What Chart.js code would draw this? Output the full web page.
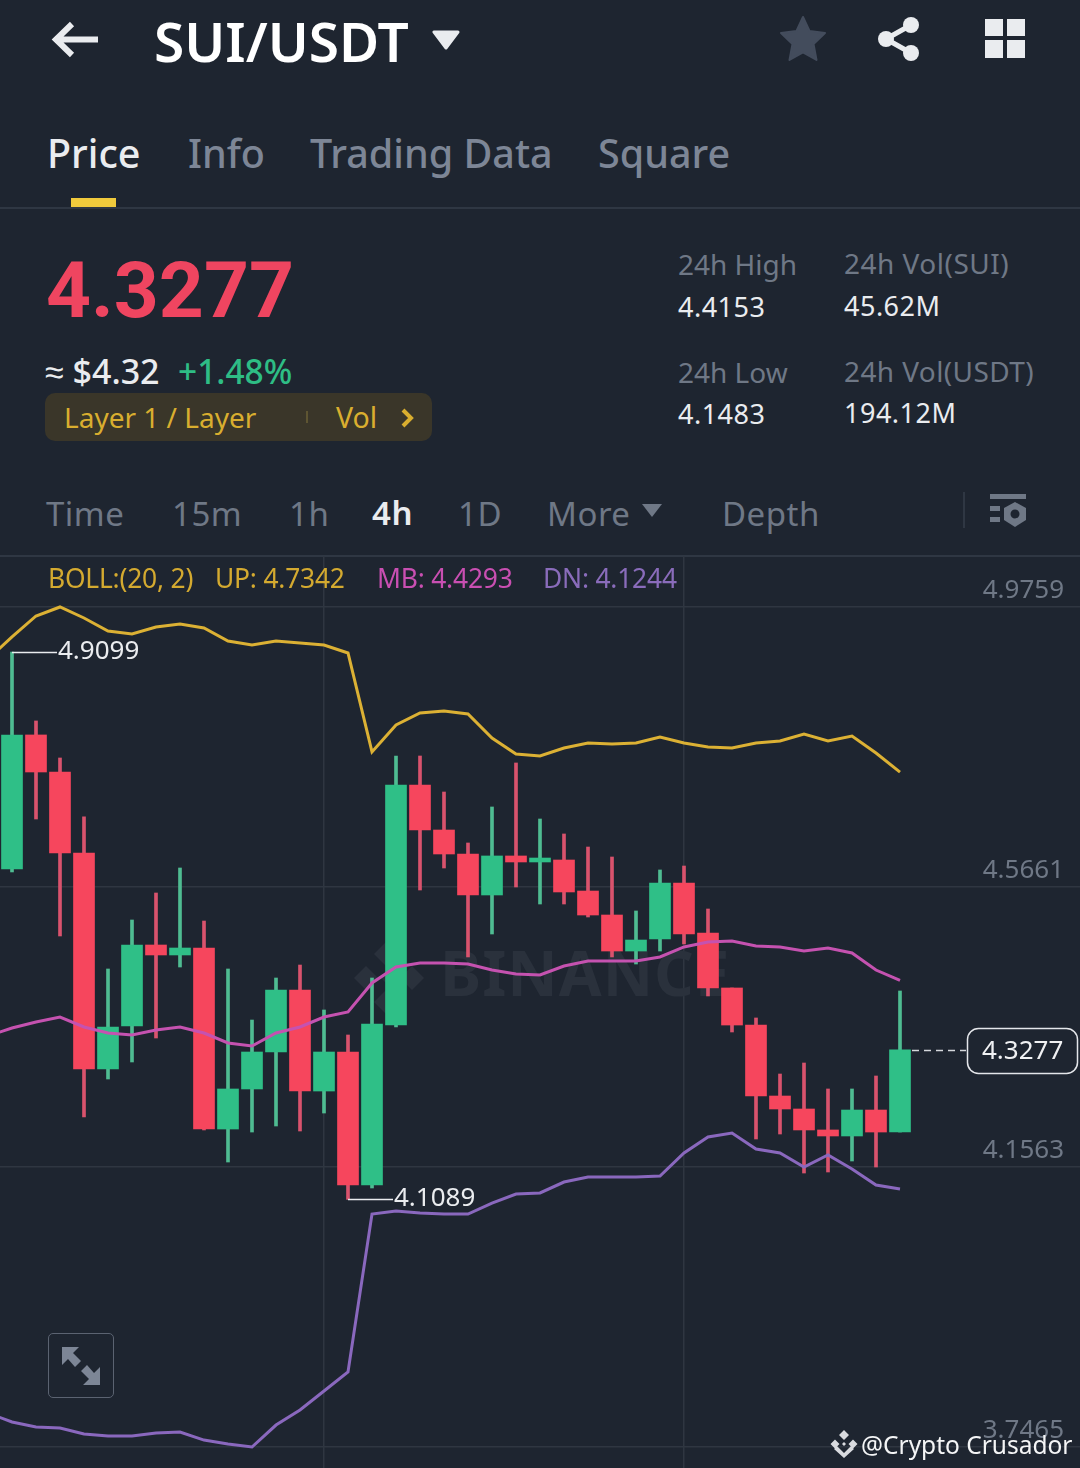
<!DOCTYPE html>
<html>
<head>
<meta charset="utf-8">
<title>SUI/USDT</title>
<script src="https://cdn.jsdelivr.net/npm/chart.js@4/dist/chart.umd.min.js"></script>
<style>
html, body { margin: 0; padding: 0; background: #1e2530; }
body { position: relative; width: 1080px; height: 1468px; overflow: hidden; font-family: "Noto Sans", sans-serif; }
.t { position: absolute; white-space: nowrap; line-height: 50px; height: 50px; }
.line { position: absolute; background: #2f3743; }
.tab { font-size: 39.500px; font-weight: 500; color: #7d8696; }
.stat { font-size: 28px; color: #6f7886; }
.val { font-size: 27px; color: #eaecef; letter-spacing: 0.5px; }
.time { font-size: 33px; color: #6f7886; letter-spacing: 0.5px; }
.leg { font-size: 26.400px; letter-spacing: -0.2px; }
svg { position: absolute; }
canvas { position: absolute; left: 0; top: 556px; }
</style>
</head>
<body>

<svg style="left:50px;top:20px" width="50" height="40" viewBox="0 0 50 40"><path d="M22 4 L6 19.500 L22 35 M7 19.500 H48" fill="none" stroke="#eaecef" stroke-width="6"/></svg>
<div class="t" style="left:154px;top:16px;font-size:55px;font-weight:600;color:#fff;line-height:50px">SUI/USDT</div>
<svg style="left:432px;top:30px" width="28" height="20"><path d="M2 2 H26 L14 18 Z" fill="#eaecef" stroke="#eaecef" stroke-width="3" stroke-linejoin="round"/></svg>

<svg style="left:778px;top:14px" width="50" height="50" viewBox="0 0 50 50"><path d="M25 3 L31.500 17 L47 19 L35.500 30 L38.500 46 L25 38.500 L11.500 46 L14.500 30 L3 19 L18.500 17 Z" fill="#434c5c" stroke="#434c5c" stroke-width="2" stroke-linejoin="round"/></svg>
<svg style="left:875px;top:14px" width="50" height="50" viewBox="0 0 50 50"><circle cx="11" cy="25" r="8" fill="#eaecef"/><circle cx="36" cy="11" r="8" fill="#eaecef"/><circle cx="36" cy="39" r="8" fill="#eaecef"/><path d="M11 25 L36 11 M11 25 L36 39" stroke="#eaecef" stroke-width="5"/></svg>
<svg style="left:985px;top:19px" width="40" height="40"><rect x="0" y="0" width="18" height="17" fill="#eaecef"/><rect x="22" y="0" width="18" height="17" fill="#eaecef"/><rect x="0" y="21" width="18" height="18" fill="#eaecef"/><rect x="22" y="21" width="18" height="18" fill="#eaecef"/></svg>

<div class="t tab" style="left:47px;top:128px;color:#eaecef">Price</div>
<div class="t tab" style="left:188px;top:128px">Info</div>
<div class="t tab" style="left:310px;top:128px">Trading Data</div>
<div class="t tab" style="left:598px;top:128px">Square</div>
<div class="line" style="left:71px;top:198px;width:45px;height:9px;background:#f0ca3c"></div>
<div class="line" style="left:0;top:207px;width:1080px;height:2px"></div>

<div class="t" style="left:46px;top:265px;font-family:Roboto;font-size:78.500px;font-weight:700;color:#ef4560">4.3277</div>
<div class="t" style="left:45px;top:346px;font-size:34px;font-weight:500;color:#eaecef">≈ $4.32</div>
<div class="t" style="left:178px;top:346px;font-size:33.500px;font-weight:500;color:#2ebd85">+1.48%</div>

<div style="position:absolute;left:45px;top:393px;width:387px;height:48px;border-radius:10px;background:#3a3629"></div>
<div class="t" style="left:64px;top:392px;font-size:28px;color:#d9ae2f">Layer 1 / Layer</div>
<div class="line" style="left:306px;top:411px;width:2px;height:12px;background:#5e5532"></div>
<div class="t" style="left:336px;top:392px;font-size:28.500px;color:#d9ae2f">Vol</div>
<svg style="left:400px;top:408px" width="16" height="20"><path d="M3 2 L11 10 L3 18" fill="none" stroke="#d9ae2f" stroke-width="4"/></svg>

<div class="t stat" style="left:678px;top:239px">24h High</div>
<div class="t val" style="left:678px;top:282px">4.4153</div>
<div class="t stat" style="left:844px;top:238px;letter-spacing:0.5px">24h Vol(SUI)</div>
<div class="t val" style="left:844px;top:281px">45.62M</div>
<div class="t stat" style="left:678px;top:347px">24h Low</div>
<div class="t val" style="left:678px;top:389px">4.1483</div>
<div class="t stat" style="left:844px;top:346px;letter-spacing:0.4px">24h Vol(USDT)</div>
<div class="t val" style="left:844px;top:388px">194.12M</div>

<div class="t time" style="left:46px;top:489px">Time</div>
<div class="t time" style="left:172px;top:489px">15m</div>
<div class="t time" style="left:289px;top:489px">1h</div>
<div class="t time" style="left:372px;top:488px;color:#eaecef;font-weight:600">4h</div>
<div class="t time" style="left:458px;top:489px">1D</div>
<div class="t time" style="left:547px;top:489px">More</div>
<svg style="left:642px;top:504px" width="20" height="13"><path d="M0 0 H20 L10 13 Z" fill="#6f7886"/></svg>
<div class="t time" style="left:722px;top:489px">Depth</div>
<div class="line" style="left:963px;top:492px;width:2px;height:36px"></div>
<svg style="left:988px;top:492px" width="40" height="38"><rect x="2" y="2" width="36" height="5" fill="#6f7886"/><rect x="2" y="14" width="10" height="5" fill="#6f7886"/><rect x="2" y="25" width="10" height="5" fill="#6f7886"/><path d="M27 10 L38 16 V28 L27 35 L16 28 V16 Z" fill="#6f7886"/><circle cx="27" cy="22" r="4.500" fill="#1e2530"/></svg>
<div class="line" style="left:0;top:555px;width:1080px;height:2px"></div>

<canvas id="chart" width="1080" height="912"></canvas>

<div class="t leg" style="left:48px;top:553px;color:#d4aa30">BOLL:(20, 2)</div>
<div class="t leg" style="left:215px;top:553px;color:#d4aa30">UP: 4.7342</div>
<div class="t leg" style="left:377px;top:553px;color:#c94fb2">MB: 4.4293</div>
<div class="t leg" style="left:543px;top:553px;color:#8a6cbb">DN: 4.1244</div>

<div style="position:absolute;left:48px;top:1333px;width:64px;height:63px;border:1.500px solid #5b6371;border-radius:5px"></div>
<svg style="left:60px;top:1345px" width="42" height="42"><path d="M2 2 H19 L13 8 L21 16 L15 22 L8 14 L2 20 Z M40 40 H23 L29 34 L21 26 L27 20 L34 28 L40 22 Z" fill="#7d8696"/></svg>

<svg style="left:829px;top:1429px" width="30" height="30" viewBox="0 0 30 30"><path d="M15 1 L20 6 L15 11 L10 6 Z M6 10.500 L10.500 15 L6 19.500 L1.500 15 Z M24 10.500 L28.500 15 L24 19.500 L19.500 15 Z M15 13 L17 15 L15 17 L13 15 Z M8 17 L15 24 L22 17 L25 20 L15 29 L5 20 Z" fill="#d9dbdf"/></svg>
<div class="t" style="left:861px;top:1420px;font-size:24.500px;color:#f4f5f6">@Crypto Crusador</div>

<script>
// price levels printed on the right axis
const priceTicks = [4.9759, 4.5661, 4.1563, 3.7465];
// the two vertical time lines sit on these candles
const timeTicks = [13, 28];

// 4h candles
const opens = [4.5924, 4.7886, 4.7344, 4.6159, 4.2997, 4.3627, 4.4812, 4.4666, 4.4768, 4.2119, 4.2705, 4.3246, 4.4154, 4.2675, 4.3246, 4.1300, 4.3641, 4.7154, 4.6495, 4.6144, 4.5544, 4.6115, 4.6027, 4.6056, 4.5602, 4.5251, 4.4724, 4.4900, 4.5720, 4.4988, 4.4183, 4.3641, 4.2602, 4.2412, 4.2105, 4.2017, 4.2397, 4.2075];
const highs = [4.9099, 4.8091, 4.7549, 4.6686, 4.4461, 4.5178, 4.5573, 4.5939, 4.5163, 4.4461, 4.3714, 4.4329, 4.4519, 4.3861, 4.3495, 4.4329, 4.7578, 4.7578, 4.7051, 4.6305, 4.6832, 4.7476, 4.6656, 4.6437, 4.6246, 4.6100, 4.5310, 4.5910, 4.5968, 4.5339, 4.4183, 4.3744, 4.2924, 4.3085, 4.2705, 4.2705, 4.2895, 4.4139];
const lows = [4.5881, 4.6656, 4.4944, 4.2295, 4.2851, 4.3100, 4.3451, 4.4490, 4.2105, 4.1636, 4.2075, 4.2163, 4.2090, 4.2353, 4.1089, 4.1256, 4.3612, 4.5617, 4.5939, 4.4637, 4.4973, 4.5661, 4.5412, 4.5412, 4.5222, 4.4637, 4.4534, 4.4724, 4.4827, 4.4066, 4.3539, 4.1973, 4.2046, 4.1475, 4.1490, 4.1651, 4.1563, 4.2075];
const closes = [4.7886, 4.7344, 4.6159, 4.2997, 4.3612, 4.4812, 4.4666, 4.4768, 4.2119, 4.2705, 4.3246, 4.4154, 4.2675, 4.3246, 4.1300, 4.3656, 4.7154, 4.6495, 4.6144, 4.5544, 4.6115, 4.6027, 4.6085, 4.5588, 4.5251, 4.4724, 4.4885, 4.5720, 4.4973, 4.4183, 4.3641, 4.2602, 4.2412, 4.2105, 4.2017, 4.2397, 4.2075, 4.3277];

// bollinger lines, first value belongs to the candle just off the left edge
const bollUp = [4.8998, 4.9320, 4.9627, 4.9759, 4.9598, 4.9408, 4.9364, 4.9466, 4.9510, 4.9452, 4.9261, 4.9203, 4.9261, 4.9232, 4.9203, 4.9086, 4.7637, 4.8032, 4.8208, 4.8237, 4.8193, 4.7842, 4.7608, 4.7578, 4.7695, 4.7769, 4.7754, 4.7769, 4.7856, 4.7769, 4.7710, 4.7695, 4.7769, 4.7798, 4.7900, 4.7798, 4.7871, 4.7622, 4.7342];
const bollMid = [4.3480, 4.3597, 4.3685, 4.3758, 4.3612, 4.3524, 4.3495, 4.3568, 4.3612, 4.3524, 4.3378, 4.3334, 4.3524, 4.3612, 4.3758, 4.3832, 4.4256, 4.4490, 4.4549, 4.4549, 4.4534, 4.4446, 4.4388, 4.4373, 4.4505, 4.4578, 4.4578, 4.4578, 4.4637, 4.4783, 4.4856, 4.4871, 4.4798, 4.4783, 4.4724, 4.4768, 4.4695, 4.4446, 4.4293];
const bollDn = [3.7963, 3.7831, 3.7758, 3.7743, 3.7655, 3.7626, 3.7626, 3.7670, 3.7685, 3.7567, 3.7509, 3.7465, 3.7787, 3.8007, 3.8285, 3.8563, 4.0875, 4.0919, 4.0890, 4.0875, 4.0875, 4.1036, 4.1168, 4.1183, 4.1343, 4.1417, 4.1417, 4.1417, 4.1431, 4.1768, 4.2002, 4.2061, 4.1826, 4.1768, 4.1563, 4.1739, 4.1534, 4.1300, 4.1241];

const lastPrice = 4.3277;
const highLabel = { index: 0, price: 4.9099, text: '4.9099' };
const lowLabel = { index: 14, price: 4.1089, text: '4.1089' };

const RED = '#f6465d', GREEN = '#2fbf87';
const RED_WICK = '#d9536d', GREEN_WICK = '#4fbc92';

function isUp(i) { return closes[i] >= opens[i]; }

const bodies = opens.map((o, i) => ({ x: i, y: [o, closes[i]] }));
const wicks = highs.map((h, i) => ({ x: i, y: [lows[i], h] }));
const lineData = arr => arr.map((v, i) => ({ x: i - 1, y: v }));

// watermark goes under the candles, price notes go over them
const overlay = {
    id: 'overlay',
    beforeDatasetsDraw(chart) {
        const ctx = chart.ctx;
        ctx.save();
        ctx.fillStyle = '#2a313c';
        ctx.font = '700 62px "Noto Sans"';
        ctx.letterSpacing = '1px';
        ctx.textBaseline = 'middle';
        ctx.fillText('BINANCE', 440, 422);
        ctx.letterSpacing = '0px';
        const d = (cx, cy, r) => {
            ctx.beginPath();
            ctx.moveTo(cx, cy - r); ctx.lineTo(cx + r, cy); ctx.lineTo(cx, cy + r); ctx.lineTo(cx - r, cy);
            ctx.fill();
        };
        d(388, 422, 7); d(366, 422, 12); d(412, 422, 12); d(388, 398, 14); d(388, 446, 14);
        ctx.restore();
    },
    afterDatasetsDraw(chart) {
        const ctx = chart.ctx, x = chart.scales.x, y = chart.scales.y;
        ctx.save();
        ctx.font = '26px "Noto Sans"';
        ctx.textBaseline = 'middle';
        [highLabel, lowLabel].forEach(n => {
            const px = x.getPixelForValue(n.index), py = Math.round(y.getPixelForValue(n.price)) + 0.5;
            ctx.strokeStyle = '#eaecef';
            ctx.lineWidth = 1.5;
            ctx.beginPath();
            ctx.moveTo(px, py);
            ctx.lineTo(px + 45, py);
            ctx.stroke();
            ctx.fillStyle = '#eaecef';
            ctx.fillText(n.text, px + 46, py - 1);
        });
        // current price tag
        const py = Math.round(y.getPixelForValue(lastPrice)) + 0.5;
        ctx.strokeStyle = '#d5d8dc';
        ctx.lineWidth = 1.5;
        ctx.setLineDash([7, 5]);
        ctx.beginPath();
        ctx.moveTo(912, py);
        ctx.lineTo(966, py);
        ctx.stroke();
        ctx.setLineDash([]);
        ctx.fillStyle = '#1e2530';
        ctx.strokeStyle = '#e4e6ea';
        ctx.beginPath();
        ctx.roundRect(967.5, py - 22, 110, 45, 11);
        ctx.fill();
        ctx.stroke();
        ctx.fillStyle = '#f0f1f3';
        ctx.fillText(String(lastPrice), 982, py + 1);
        ctx.restore();
    }
};

new Chart(document.getElementById('chart').getContext('2d'), {
    type: 'bar',
    data: {
        datasets: [
            { type: 'line', data: lineData(bollUp), borderColor: '#dcb134', borderWidth: 3, pointRadius: 0, order: 0 },
            { type: 'line', data: lineData(bollMid), borderColor: '#c552b0', borderWidth: 3, pointRadius: 0, order: 0 },
            { type: 'line', data: lineData(bollDn), borderColor: '#8a68be', borderWidth: 3, pointRadius: 0, order: 0 },
            {
                data: bodies,
                backgroundColor: opens.map((o, i) => isUp(i) ? GREEN : RED),
                barThickness: 21, grouped: false, order: 1
            },
            {
                data: wicks,
                backgroundColor: opens.map((o, i) => isUp(i) ? GREEN_WICK : RED_WICK),
                barThickness: 3, grouped: false, order: 2
            }
        ]
    },
    options: {
        responsive: false,
        animation: false,
        events: [],
        layout: { padding: 0, autoPadding: false },
        plugins: { legend: { display: false }, tooltip: { enabled: false } },
        scales: {
            x: {
                type: 'linear',
                offset: false,
                min: -0.5,
                max: 44.5,
                afterBuildTicks: s => { s.ticks = timeTicks.map(v => ({ value: v })); },
                // bar charts shift grid lines half a step by default
                grid: { color: '#2f3641', lineWidth: 1.5, drawTicks: false, offset: false },
                border: { display: false },
                ticks: { display: false }
            },
            y: {
                position: 'right',
                min: 3.7158,
                max: 5.0505,
                afterBuildTicks: s => { s.ticks = priceTicks.map(v => ({ value: v })); },
                // labels sit inside the plot, so the axis takes no room
                afterFit: s => { s.width = 0; s.paddingTop = 0; s.paddingBottom = 0; },
                grid: { color: '#2f3641', lineWidth: 1.5, drawTicks: false },
                border: { display: false },
                ticks: {
                    mirror: true,
                    padding: -16,
                    labelOffset: -16,
                    color: '#6f7886',
                    font: { family: '"Noto Sans"', size: 26 },
                    callback: v => v.toFixed(4)
                }
            }
        }
    },
    plugins: [overlay]
});
</script>
</body>
</html>
